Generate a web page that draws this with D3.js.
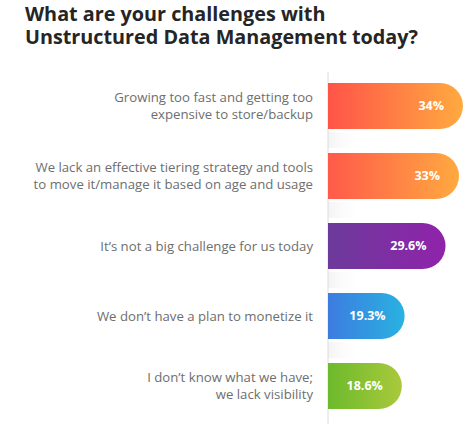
<!DOCTYPE html>
<html>
<head>
<meta charset="utf-8">
<script src="https://cdn.jsdelivr.net/npm/d3@7"></script>
<style>
  html, body { margin: 0; padding: 0; background: #fff; }
  svg { display: block; }
</style>
</head>
<body>
<svg id="chart" width="474" height="424"></svg>
<script>
const titleLines = ["What are your challenges with", "Unstructured Data Management today?"];
const categories = [
  ["Growing too fast and getting too", "expensive to store/backup"],
  ["We lack an effective tiering strategy and tools", "to move it/manage it based on age and usage"],
  ["It\u2019s not a big challenge for us today"],
  ["We don\u2019t have a plan to monetize it"],
  ["I don\u2019t know what we have;", "we lack visibility"]
];
const values = [34, 33, 29.6, 19.3, 18.6];
const valueLabels = ["34%", "33%", "29.6%", "19.3%", "18.6%"];
const gradientStops = [
  ["#FF5448", "#FFAA40"],
  ["#FF5A4A", "#FFA940"],
  ["#6C3A9B", "#9023AA"],
  ["#3D7CE0", "#29B2E0"],
  ["#6CBA2C", "#A9C93B"]
];

const svg = d3.select("#chart");
const W = 474, H = 424;
const axisX = 328;

const x = d3.scaleLinear().domain([0, 34]).range([axisX, 463]);
const y = d3.scaleBand().domain(d3.range(values.length)).range([71, 421]).paddingInner(0.343).paddingOuter(0.17);

const defs = svg.append("defs");
gradientStops.forEach((g, i) => {
  const lg = defs.append("linearGradient").attr("id", "grad" + i)
    .attr("x1", "0%").attr("x2", "100%").attr("y1", "0%").attr("y2", "0%");
  lg.append("stop").attr("offset", "0%").attr("stop-color", g[0]);
  lg.append("stop").attr("offset", "100%").attr("stop-color", g[1]);
});
const sh = defs.append("linearGradient").attr("id", "shadow").attr("x1", "0%").attr("x2", "100%");
sh.append("stop").attr("offset", "0%").attr("stop-color", "#ececec").attr("stop-opacity", 1);
sh.append("stop").attr("offset", "100%").attr("stop-color", "#ffffff").attr("stop-opacity", 0);

// Title (one text element, two lines)
svg.append("text")
  .attr("font-family", "'Open Sans', sans-serif")
  .attr("font-weight", 700).attr("font-size", 19.8)
  .attr("fill", "#252525")
  .selectAll("tspan").data(titleLines).join("tspan")
  .attr("x", 25).attr("y", (d, i) => 20.5 + i * 23)
  .text(d => d);

// Soft shadows between bars near the axis
svg.append("g").selectAll("rect").data(d3.range(values.length - 1)).join("rect")
  .attr("x", axisX).attr("width", 36)
  .attr("y", i => y(i) + y.bandwidth() + 3)
  .attr("height", y.step() - y.bandwidth() - 8)
  .attr("fill", "url(#shadow)").attr("opacity", 0.6);

// Axis line
svg.append("line")
  .attr("x1", axisX).attr("x2", axisX).attr("y1", 72).attr("y2", H)
  .attr("stroke", "#dcdcdc").attr("stroke-width", 1);

// Bars: flat left, rounded right
const r = y.bandwidth() / 2;
function barPath(v, i) {
  const x0 = x(0), x1 = x(v), y0 = y(i), h = y.bandwidth();
  return `M${x0},${y0} H${x1 - r} A${r},${r} 0 0 1 ${x1 - r},${y0 + h} H${x0} Z`;
}
svg.append("g").selectAll("path").data(values).join("path")
  .attr("d", (d, i) => barPath(d, i))
  .attr("fill", (d, i) => `url(#grad${i})`);

// Value labels
svg.append("g").selectAll("text").data(values).join("text")
  .attr("x", d => x(d) - 19)
  .attr("y", (d, i) => y(i) + y.bandwidth() / 2)
  .attr("dy", "0.35em")
  .attr("text-anchor", "end")
  .attr("font-family", "'Open Sans', sans-serif")
  .attr("font-weight", 700).attr("font-size", 12.5)
  .attr("fill", "#ffffff")
  .text((d, i) => valueLabels[i]);

// Category labels
const lineH = 17.5;
const lab = svg.append("g").selectAll("text").data(categories).join("text")
  .attr("text-anchor", "end")
  .attr("font-family", "'Open Sans', sans-serif")
  .attr("font-weight", 400).attr("font-size", 13.2)
  .attr("fill", "#6e6e6e");
lab.each(function(lines, i) {
  const cy = y(i) + y.bandwidth() / 2;
  const startY = cy - (lines.length - 1) * lineH / 2;
  d3.select(this).selectAll("tspan").data(lines).join("tspan")
    .attr("x", 313)
    .attr("y", (d, j) => startY + j * lineH)
    .attr("dy", "0.35em")
    .text(d => d);
});
</script>
</body>
</html>
